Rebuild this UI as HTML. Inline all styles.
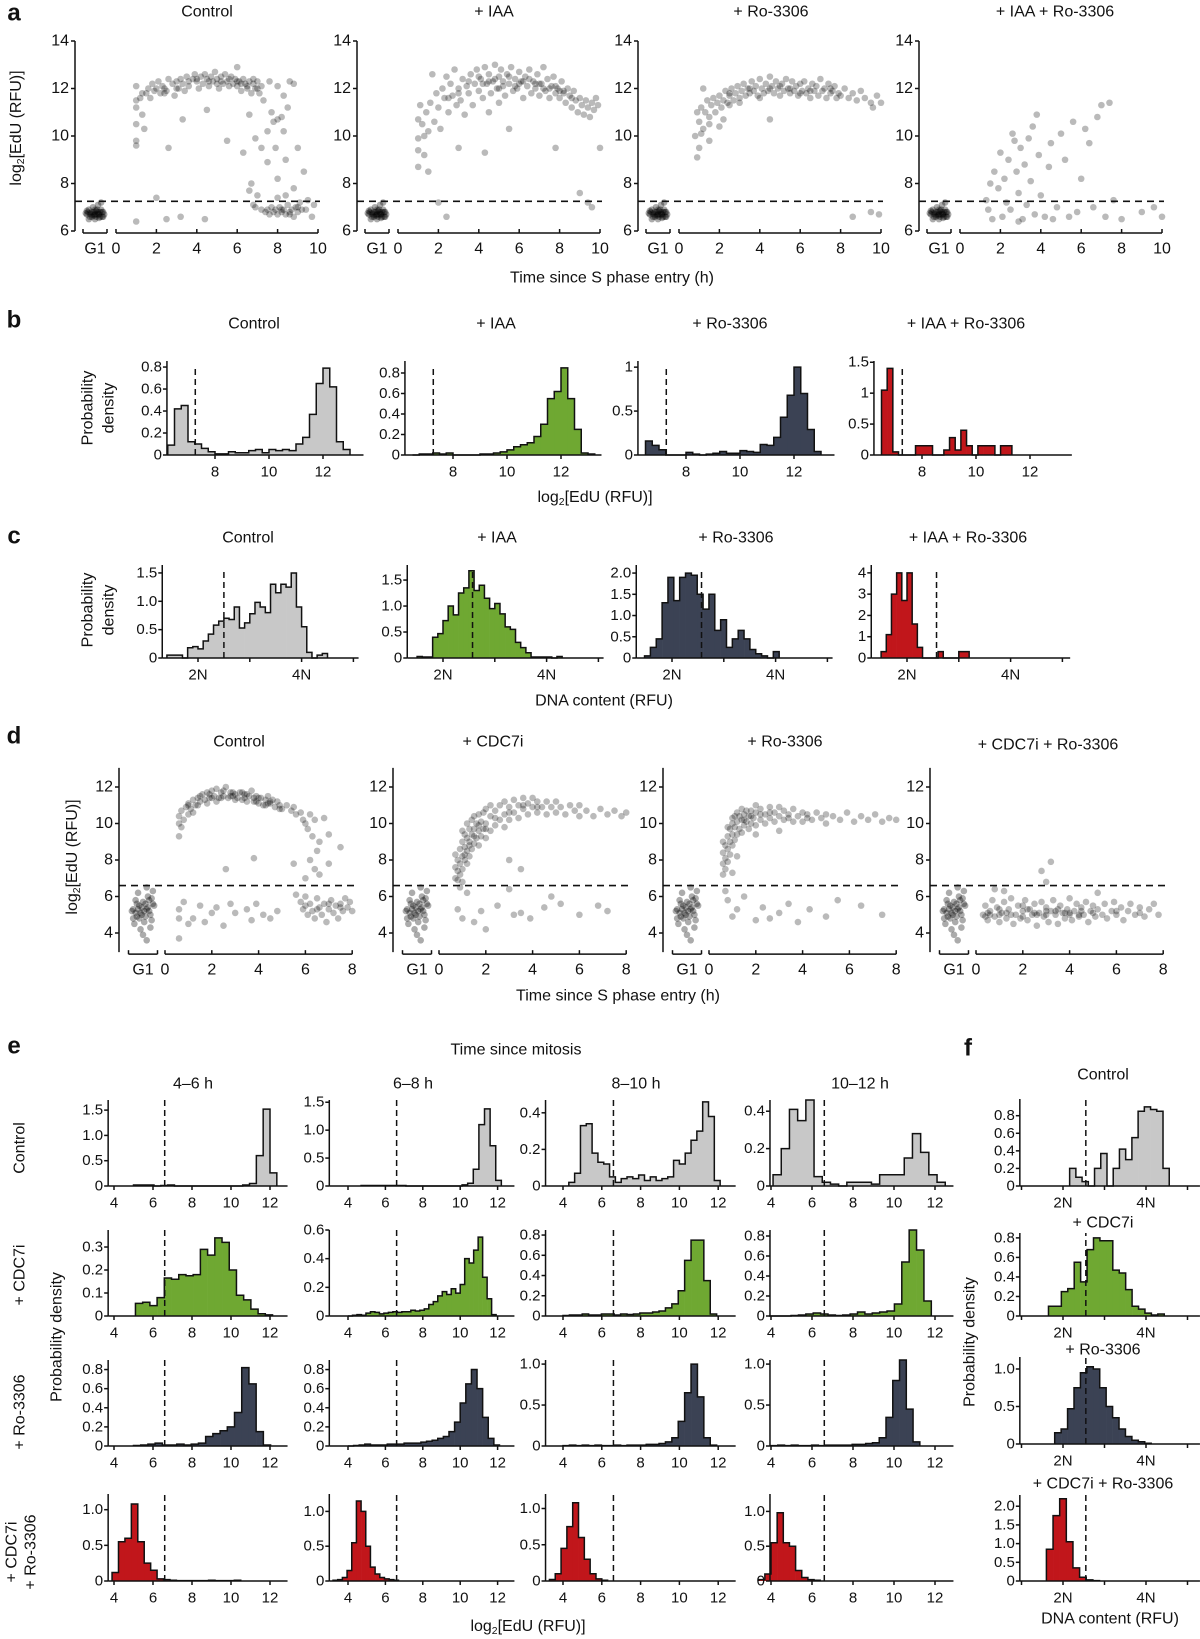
<!DOCTYPE html>
<html><head><meta charset="utf-8"><title>Figure</title>
<style>
html,body{margin:0;padding:0;background:#fff;}
svg{display:block;font-family:"Liberation Sans",Arial,sans-serif;}
</style></head>
<body>
<svg id="fig" width="1200" height="1639" viewBox="0 0 1200 1639" xmlns="http://www.w3.org/2000/svg"></svg>
<script>
// ---------- scatter data (a) : flat [t, v, t, v ...]
const g1A = [-0.8,6.7,-0.6,6.9,-0.5,6.6,-0.3,6.8,-0.2,6.7,0,6.9,0.1,6.6,0.3,6.8,0.4,6.7,0.6,6.9,0.8,6.6,-0.7,6.8,-0.4,6.7,-0.1,6.8,0.2,6.7,0.5,6.6,0.7,6.8,-0.9,6.75,0.9,6.7,0,6.5,-0.2,7.0,0.3,7.1,0.6,7.2,-0.6,6.5,0.1,6.85,0.4,6.55,-0.5,6.75,0.2,6.9,0.7,6.6,-0.8,6.85,0.0,6.7,0.5,6.8,-0.3,6.6,0.8,6.8,-0.1,6.65,0.35,6.7];
const sA1 = [1.0,12.1,1.0,11.5,1.0,11.2,1.0,10.5,1.0,9.8,1.0,9.6,1.2,11.6,1.3,11.8,1.3,10.9,1.4,10.3,1.5,11.8,1.6,12.0,1.7,11.6,1.8,12.2,1.9,11.9,2.0,12.0,2.1,12.3,2.2,11.8,2.3,12.1,2.4,12.0,2.5,11.9,2.6,12.4,2.6,9.5,2.8,12.2,2.9,11.7,3.0,12.3,3.1,12.0,3.2,12.4,3.3,12.2,3.4,11.9,3.5,12.5,3.6,12.1,3.8,12.4,3.9,12.6,4.0,12.3,4.1,12.0,4.2,12.5,4.3,12.2,4.4,12.6,4.5,12.4,4.6,12.1,4.7,12.5,4.8,12.3,4.9,12.7,5.0,12.4,5.1,12.0,5.2,12.5,5.3,12.2,5.4,12.6,5.5,12.3,5.6,12.1,5.7,12.5,5.8,12.2,5.9,12.4,6.0,12.1,6.0,12.9,6.1,12.3,6.2,11.9,6.3,12.4,6.4,12.2,6.5,12.0,6.6,12.3,6.7,11.8,6.8,12.2,6.9,12.0,7.0,12.3,7.1,11.8,7.2,12.1,7.3,11.5,3.3,10.7,4.5,11.1,5.5,9.8,6.3,9.3,6.6,10.9,6.9,9.9,7.2,9.5,7.5,8.9,7.5,10.2,7.7,11.0,7.8,10.6,7.9,9.5,8.0,10.7,8.0,8.2,8.2,10.8,8.3,10.2,8.4,9.0,8.5,11.2,8.6,12.3,8.8,12.2,7.6,12.3,8.0,12.1,8.3,11.7,9.0,9.5,9.3,8.5,6.6,7.7,6.7,8.0,6.8,7.1,6.9,7.0,7.0,7.5,7.2,6.9,7.4,6.8,7.5,6.9,7.6,6.7,7.7,7.0,7.8,6.8,7.9,6.9,8.0,6.7,8.1,7.0,8.2,6.8,8.3,6.9,8.4,6.7,8.5,7.1,8.6,6.8,8.7,6.9,8.8,6.6,8.9,7.0,9.0,6.8,9.1,7.2,9.2,6.9,9.4,6.9,9.5,7.3,9.7,6.6,9.8,7.1,8.0,7.4,8.4,7.5,8.8,7.8,2.0,7.4,3.2,6.6,2.5,6.5,1.0,6.4,4.4,6.5,3.0,12.0,4.0,12.4,5.0,12.2,6.0,12.3,6.5,12.1,8.2,6.9,8.6,6.7,9.0,7.0,5.2,12.3,5.6,12.4,6.2,12.2,6.8,12.4,7.0,12.0,4.6,12.3,3.6,12.3,2.4,11.8];
const sA2 = [1.0,10.7,1.0,9.9,1.0,9.4,1.0,8.7,1.1,11.3,1.2,10.5,1.3,9.2,1.3,10.0,1.4,11.0,1.5,8.5,1.5,10.2,1.6,11.4,1.7,12.6,1.8,10.6,1.9,11.8,2.0,11.2,2.1,10.3,2.2,12.0,2.3,11.6,2.4,12.5,2.5,11.0,2.6,12.2,2.7,11.7,2.8,12.8,2.9,11.3,3.0,12.0,3.1,11.5,3.2,12.4,3.3,10.9,3.4,12.1,3.5,11.8,3.6,12.6,3.7,11.3,3.8,12.2,3.9,12.8,4.0,11.9,4.1,12.4,4.2,11.6,4.3,12.9,4.4,12.2,4.5,11.0,4.5,12.6,4.6,11.8,4.7,12.3,4.8,13.0,4.9,12.0,5.0,12.5,5.0,11.4,5.1,12.8,5.2,12.1,5.3,11.7,5.4,12.6,5.5,12.2,5.6,12.9,5.7,11.9,5.8,12.4,5.9,12.0,6.0,12.7,6.1,12.3,6.2,11.6,6.3,12.5,6.4,12.1,6.5,12.8,6.6,11.8,6.7,12.3,6.8,12.0,6.9,12.6,7.0,11.7,7.1,12.2,7.2,12.9,7.3,11.9,7.4,12.4,7.5,11.6,7.6,12.1,7.7,12.5,7.8,11.8,7.9,12.0,8.0,11.6,8.1,12.3,8.2,11.9,8.3,11.4,8.4,12.0,8.5,11.7,8.6,11.2,8.7,11.9,8.8,11.5,8.9,11.0,9.0,11.6,9.1,11.3,9.2,10.9,9.3,11.5,9.4,11.2,9.5,10.8,9.6,11.4,9.7,11.1,9.8,11.6,9.9,11.3,2.0,7.2,2.4,6.6,9.0,7.6,9.4,7.2,9.6,7.0,4.3,9.3,7.8,9.5,3.0,9.5,5.5,10.3,3.5,12.3,4.0,12.5,4.5,12.3,5.0,12.0,5.5,12.5,6.0,12.2,6.5,12.4,7.0,12.2,7.5,12.0,8.0,11.9,3.0,11.8,2.5,11.6,10.0,9.5,4.2,12.2,4.8,12.4,5.2,12.3,5.8,12.1,6.2,12.3,6.8,12.2,7.2,12.0,7.8,12.1,8.2,11.8,8.6,11.6];
const sA3 = [0.8,10.0,0.9,11.0,1.0,9.5,1.0,10.6,1.1,11.2,1.2,10.3,1.3,11.0,1.4,11.5,1.5,10.8,1.6,11.3,1.7,11.6,1.8,11.0,1.9,11.4,2.0,11.7,2.1,11.2,2.2,11.5,2.3,11.9,2.4,11.4,2.5,11.7,2.6,12.0,2.7,11.5,2.8,11.8,2.9,12.1,3.0,11.6,3.1,11.9,3.2,12.2,3.3,11.7,3.4,12.0,3.5,11.8,3.6,12.3,3.7,11.9,3.8,12.1,3.9,11.7,4.0,12.4,4.1,12.0,4.2,11.8,4.3,12.2,4.4,11.9,4.5,12.5,4.6,12.1,4.7,11.8,4.8,12.3,4.9,12.0,5.0,11.7,5.1,12.2,5.2,11.9,5.3,12.4,5.4,12.0,5.5,11.8,5.6,12.3,5.7,11.9,5.8,12.1,5.9,11.7,6.0,12.2,6.1,11.9,6.2,12.3,6.3,11.8,6.4,12.0,6.5,11.6,6.6,12.2,6.7,11.9,6.8,12.1,6.9,11.7,7.0,12.4,7.1,11.9,7.2,12.0,7.3,11.6,7.4,12.2,7.5,11.8,7.6,11.9,7.7,12.1,7.8,11.6,7.9,11.8,8.0,11.7,8.2,12.0,8.4,11.6,8.6,11.8,8.8,11.5,9.0,11.9,9.2,11.6,9.5,11.4,9.8,11.7,1.5,9.8,2.0,10.4,1.2,12.0,8.6,6.6,9.5,6.8,3.0,11.4,4.0,11.6,5.0,12.1,6.0,11.8,2.5,11.3,0.9,9.1,1.1,10.1,1.5,10.5,2.2,10.7,4.5,10.7,9.9,6.7,9.6,11.2,10.0,11.4,3.5,12.0,4.5,12.0,5.5,12.0,6.5,11.9,7.5,12.0,2.5,11.8];
const sA4 = [1.3,7.3,1.4,6.9,1.5,8.0,1.7,8.5,1.9,7.8,2.0,9.3,2.1,6.6,2.2,8.2,2.3,7.2,2.4,9.0,2.5,6.9,2.6,10.1,2.7,9.8,2.8,8.5,2.9,7.6,3.0,9.5,3.1,6.5,3.2,8.8,3.3,7.1,3.4,9.9,3.5,8.1,3.6,10.4,3.7,6.7,3.8,10.9,3.9,9.2,4.0,7.5,4.2,6.6,4.4,8.7,4.5,9.7,4.6,6.5,4.8,7.0,5.0,10.1,5.2,9.0,5.4,6.6,5.6,10.6,5.8,6.8,6.0,8.2,6.2,10.3,6.4,9.7,6.6,7.0,6.8,10.8,7.0,11.3,7.2,6.6,7.4,11.4,7.6,7.3,8.0,6.5,9.0,6.8,9.6,7.0,10.0,6.6,1.6,6.5,2.9,6.4];
// ---------- scatter data (d)
const g1D = [-0.8,5.3,-0.6,5.8,-0.5,4.9,-0.3,5.5,-0.2,5.1,0,5.7,0.1,4.6,0.3,5.3,0.4,6.0,0.6,5.0,0.8,5.6,-0.7,4.5,-0.4,6.2,-0.1,5.4,0.2,4.9,0.5,5.8,0.7,4.7,-0.9,5.2,0.9,5.5,0,3.9,-0.2,4.2,0.3,6.5,0.6,4.3,-0.5,5.6,0.1,5.2,0.4,5.4,-0.3,4.8,0.8,6.3,-0.6,5.1,0.2,5.6,0.5,5.2,-0.1,5.0,0.7,5.9,-0.8,4.8,0.3,3.6,-0.4,5.3];
const sD1 = [0.6,10.0,0.6,9.3,0.6,10.4,0.7,9.8,0.7,10.7,0.8,10.2,0.9,10.9,1.0,10.5,1.0,11.1,1.1,10.8,1.2,11.3,1.3,11.0,1.4,11.4,1.5,11.2,1.6,11.6,1.7,11.3,1.8,11.7,1.9,11.4,2.0,11.8,2.1,11.5,2.2,11.9,2.3,11.4,2.4,11.7,2.5,11.5,2.6,12.0,2.7,11.4,2.8,11.7,2.9,11.5,3.0,11.6,3.1,11.4,3.2,11.7,3.3,11.3,3.4,11.6,3.5,11.2,3.6,11.5,3.7,11.8,3.8,11.2,3.9,11.5,4.0,11.1,4.1,11.4,4.2,11.0,4.3,11.3,4.4,11.5,4.5,11.1,4.6,11.3,4.7,10.9,4.8,11.2,4.9,11.0,5.0,10.8,5.2,11.0,5.4,10.7,5.5,10.9,5.6,10.5,5.8,10.6,5.9,10.2,6.0,10.0,6.1,9.7,6.2,10.5,6.3,9.3,6.4,10.2,6.5,8.5,6.6,9.0,6.8,10.3,7.0,9.4,7.5,8.7,6.2,8.0,6.4,7.5,6.6,7.2,5.5,7.8,6.0,7.0,7.0,7.8,1.0,11.0,1.5,11.5,2.0,11.4,2.5,11.8,3.0,11.3,3.5,11.6,4.0,11.4,4.5,11.2,1.2,10.6,1.8,11.1,2.2,11.2,2.8,11.5,3.3,11.7,3.8,11.4,4.3,11.0,5.6,6.1,5.8,5.7,5.9,5.3,6.0,6.0,6.1,5.0,6.2,5.6,6.3,5.2,6.4,4.8,6.5,5.9,6.6,5.4,6.7,5.0,6.8,5.6,6.9,4.6,7.0,5.3,7.1,5.8,7.2,5.1,7.3,5.5,7.4,4.8,7.5,5.6,7.6,5.2,7.7,5.9,7.8,5.4,7.9,5.7,8.0,5.2,6.0,5.5,6.5,5.3,7.0,5.6,7.5,5.4,0.6,4.8,0.6,5.3,0.6,3.7,0.8,5.7,1.0,4.5,1.2,4.8,1.5,5.5,1.7,4.6,2.0,5.1,2.2,5.4,2.8,5.6,3.0,5.1,3.5,5.3,3.7,4.7,3.9,5.6,4.2,5.0,4.5,4.8,4.8,5.2,2.5,4.4,3.8,8.1,2.6,7.5,1.4,11.0,1.9,11.6,2.4,11.4,2.9,11.7,3.4,11.4,3.9,11.2,4.4,11.1,4.9,10.8];
const sD2 = [0.7,7.0,0.7,7.6,0.7,8.3,0.8,6.9,0.8,7.4,0.8,8.0,0.9,7.2,0.9,7.8,0.9,8.6,1.0,7.5,1.0,8.2,1.0,9.0,1.0,9.6,1.1,8.0,1.1,8.7,1.1,9.4,1.2,7.8,1.2,8.5,1.2,9.2,1.2,10.0,1.3,8.2,1.3,9.0,1.3,9.7,1.4,8.6,1.4,9.4,1.4,10.2,1.5,8.9,1.5,9.7,1.5,10.4,1.6,9.2,1.6,10.0,1.7,8.8,1.7,9.6,1.7,10.5,1.8,9.3,1.8,10.1,1.9,9.7,1.9,10.6,2.0,9.2,2.0,10.0,2.0,10.8,2.2,9.6,2.2,10.4,2.2,11.0,2.4,9.9,2.4,10.7,2.6,10.2,2.6,11.0,2.8,9.8,2.8,10.5,2.8,11.2,3.0,10.2,3.0,10.9,3.2,10.6,3.2,11.3,3.4,10.3,3.4,11.0,3.6,10.8,3.6,11.4,3.8,10.5,3.8,11.1,4.0,10.9,4.0,11.4,4.2,10.6,4.2,11.2,4.4,10.9,4.6,11.2,4.6,10.5,4.8,10.9,5.0,11.2,5.0,10.6,5.2,10.9,5.4,10.5,5.6,11.0,5.8,10.7,6.0,10.4,6.0,11.0,6.3,10.7,6.6,10.4,6.9,10.8,7.2,10.5,7.5,10.7,7.8,10.4,8.0,10.6,0.8,5.3,1.0,4.8,1.2,6.2,1.5,4.6,1.8,5.2,2.0,4.2,2.5,5.5,3.0,6.4,3.2,5.0,3.5,5.1,3.9,4.8,4.5,5.4,4.8,6.0,5.2,5.6,6.0,5.0,6.8,5.5,7.2,5.2,1.0,6.8,0.9,6.5,3.0,8.0,3.5,7.5,1.1,8.3,1.3,8.8,1.5,9.3,1.7,9.9,2.0,9.7,2.4,10.3,3.0,10.6,3.6,11.0,4.2,10.9];
const sD3 = [0.6,7.2,0.6,7.8,0.6,8.4,0.7,7.5,0.7,8.1,0.7,8.8,0.8,7.9,0.8,8.6,0.8,9.3,0.9,8.3,0.9,9.0,0.9,9.7,1.0,8.8,1.0,9.4,1.0,10.0,1.1,9.1,1.1,9.8,1.1,10.4,1.2,9.4,1.2,10.1,1.3,9.7,1.3,10.4,1.4,9.5,1.4,10.2,1.4,10.8,1.5,9.9,1.5,10.5,1.6,10.1,1.6,10.7,1.7,9.7,1.7,10.4,1.8,10.0,1.8,10.7,1.9,10.3,2.0,9.9,2.0,10.6,2.0,11.0,2.2,10.2,2.2,10.8,2.4,10.0,2.4,10.5,2.6,10.3,2.6,10.9,2.8,10.1,2.8,10.6,3.0,10.4,3.0,10.9,3.2,10.2,3.2,10.7,3.4,10.5,3.6,10.1,3.6,10.8,3.8,10.4,4.0,10.6,4.0,10.1,4.2,10.5,4.4,10.2,4.6,10.6,4.8,10.3,5.0,10.5,5.0,10.0,5.3,10.4,5.6,10.2,5.9,10.6,6.2,10.1,6.5,10.4,6.8,10.2,7.1,10.5,7.4,10.1,7.7,10.3,8.0,10.2,3.0,9.6,2.0,9.4,1.0,7.3,1.2,8.2,0.7,6.3,0.8,5.8,1.0,4.9,1.2,5.3,1.5,6.0,2.0,4.7,2.3,5.4,2.6,4.8,3.0,5.1,3.4,5.6,3.8,4.6,4.3,5.3,5.0,4.9,5.5,5.8,6.5,5.5,7.4,5.0,0.6,9.0,0.8,9.8,1.0,10.3,1.2,10.6,1.5,10.2,1.8,10.4,2.2,10.5,2.6,10.6,3.4,10.3,4.2,10.3];
const sD4 = [0.3,5.0,0.4,5.5,0.5,4.7,0.6,5.2,0.7,5.8,0.8,4.9,0.9,5.4,1.0,4.6,1.1,5.1,1.2,5.7,1.3,4.8,1.4,5.3,1.5,5.9,1.6,4.5,1.7,5.0,1.8,5.5,1.9,4.8,2.0,5.2,2.1,5.8,2.2,4.7,2.3,5.3,2.4,5.0,2.5,5.6,2.6,4.4,2.7,5.1,2.8,5.7,2.9,4.9,3.0,5.4,3.1,4.6,3.2,5.2,3.3,5.8,3.4,5.0,3.5,4.5,3.6,5.5,3.7,5.1,3.8,4.8,3.9,5.3,4.0,5.9,4.1,4.7,4.2,5.2,4.3,5.6,4.4,4.9,4.5,5.4,4.6,5.0,4.7,5.7,4.8,4.6,4.9,5.2,5.0,5.5,5.1,4.9,5.2,5.3,5.4,5.0,5.5,5.6,5.6,4.8,5.8,5.2,5.9,5.7,6.0,5.0,6.2,5.4,6.3,4.7,6.5,5.2,6.6,5.6,6.8,5.0,7.0,5.4,7.2,4.9,7.4,5.3,7.6,5.6,7.8,5.0,0.5,5.1,1.0,5.3,1.5,5.0,2.0,5.5,2.5,5.1,3.0,5.0,3.5,5.3,4.0,5.1,4.5,5.2,1.2,6.3,2.8,7.4,3.2,7.9,3.0,6.8,0.8,6.4,5.2,6.2,0.4,4.9,1.0,5.0,2.0,4.9,3.0,5.2,4.0,5.0,0.6,5.0,1.3,5.1,2.2,5.3,2.6,5.0,3.4,5.2,3.8,5.1,4.4,5.0,5.0,5.1,6.0,5.2,7.0,5.1];

// ---------- histogram data (b) EdU
const binB = 0.25;
const bCtrl = {x0:6.25, v:[0.09,0.42,0.45,0.12,0.10,0.06,0.03,0.01,0.01,0.03,0.02,0.02,0.04,0.05,0.02,0.05,0.04,0.05,0.04,0.10,0.16,0.37,0.65,0.79,0.62,0.12,0.05]};
const bIAA  = {x0:6.5, v:[0,0.01,0.01,0.02,0.01,0.02,0,0,0,0,0.01,0.01,0.02,0.03,0.05,0.08,0.10,0.12,0.18,0.30,0.55,0.62,0.85,0.55,0.25,0.02,0.01]};
const bRo   = {x0:6.5, v:[0.16,0.11,0.06,0,0,0,0.03,0.01,0,0.01,0.02,0.04,0.02,0.02,0.05,0.04,0.03,0.12,0.11,0.20,0.43,0.68,1.0,0.70,0.29,0.04]};
const bBoth = {x0:6.5, v:[1.05,1.4,0.05,0,0,0,0.15,0.15,0.15,0,0,0.08,0.28,0.08,0.4,0.15,0,0.15,0.15,0.15,0,0.15,0.15]};
const binB4 = 0.21;
// ---------- histogram data (c) DNA content, bins in N units
const cCtrl = {x0:1.4, w:0.1, v:[0.05,0.05,0.05,0,0.18,0.2,0.16,0.3,0.42,0.58,0.65,0.7,0.68,0.9,0.53,0.62,0.78,0.98,0.9,0.8,1.3,1.15,1.3,1.25,1.5,0.9,0.55,0.1,0,0.05,0.08]};
const cIAA  = {x0:1.5, w:0.1, v:[0.03,0.02,0.02,0.4,0.47,0.72,1.0,0.83,1.25,1.35,1.68,1.3,1.4,1.15,0.95,1.05,0.85,0.6,0.55,0.3,0.2,0.1,0.02,0.02,0.02,0.02,0,0.03]};
const cRo   = {x0:1.47, w:0.113, v:[0.05,0.25,0.45,1.3,1.9,1.35,1.9,2.0,1.95,1.5,1.15,1.5,0.65,0.9,0.25,0.45,0.65,0.45,0.2,0.1,0.05,0,0.15]};
const cBoth = {x0:1.5, w:0.1, v:[0.3,1.1,3.0,4.0,2.7,4.0,1.6,0.5,0,0,0,0.3,0,0,0,0.3,0.3]};
// ---------- histogram data (e) EdU by time since mitosis
const eData = [
 [{x0:5.0,w:0.35,v:[0.02,0.02,0.02,0,0.01,0.02,0,0,0,0,0,0,0,0,0,0,0.02,0.05,0.6,1.52,0.26]},
  {x0:4.7,w:0.3,v:[0.01,0.01,0.01,0.01,0.01,0.01,0.01,0.01,0,0,0,0,0,0,0,0,0,0,0.02,0.05,0.3,1.1,1.38,0.72,0.1]},
  {x0:4.3,w:0.3,v:[0.02,0.07,0.33,0.34,0.18,0.13,0.12,0.05,0.02,0.04,0.05,0.04,0.06,0.03,0.05,0.03,0.04,0.05,0.14,0.12,0.18,0.25,0.3,0.46,0.38,0.03]},
  {x0:4.1,w:0.4,v:[0.06,0.2,0.41,0.35,0.46,0.05,0.02,0.01,0,0.02,0.02,0.02,0.01,0.06,0.06,0.06,0.15,0.28,0.18,0.06,0.02]}],
 [{x0:5.1,w:0.37,v:[0.055,0.06,0.045,0.08,0.165,0.16,0.18,0.175,0.18,0.29,0.265,0.34,0.32,0.2,0.09,0.07,0.03,0.01,0.005]},
  {x0:4.0,w:0.24,v:[0,0.005,0.01,0.005,0.02,0.03,0.025,0.015,0.02,0.025,0.03,0.025,0.03,0.03,0.04,0.035,0.04,0.05,0.08,0.1,0.14,0.17,0.15,0.19,0.16,0.22,0.4,0.37,0.46,0.55,0.27,0.12,0.01]},
  {x0:4.0,w:0.33,v:[0.005,0.01,0.01,0.02,0.01,0.01,0.02,0.02,0.01,0.02,0.015,0.02,0.03,0.03,0.04,0.05,0.08,0.12,0.25,0.55,0.75,0.75,0.35,0.02]},
  {x0:3.9,w:0.36,v:[0,0,0,0.005,0.01,0.02,0.03,0.02,0.01,0.005,0.01,0.02,0.04,0.02,0.03,0.04,0.05,0.12,0.54,0.86,0.66,0.15]}],
 [{x0:5.0,w:0.37,v:[0.005,0.01,0.02,0.03,0.01,0.01,0.02,0.01,0.02,0.03,0.1,0.13,0.16,0.2,0.35,0.82,0.65,0.15,0.01]},
  {x0:4.0,w:0.3,v:[0,0.005,0.01,0.02,0.01,0.01,0.01,0.02,0.02,0.02,0.03,0.03,0.03,0.04,0.05,0.06,0.08,0.1,0.15,0.25,0.45,0.65,0.8,0.6,0.3,0.08,0.01]},
  {x0:4.0,w:0.33,v:[0.005,0.01,0.005,0.01,0.005,0.01,0.005,0.005,0.01,0.005,0.01,0.01,0.01,0.02,0.02,0.03,0.05,0.1,0.3,0.65,1.0,0.6,0.1,0.01]},
  {x0:4.0,w:0.33,v:[0.005,0.01,0.005,0.01,0.005,0.005,0.01,0.005,0.01,0.01,0.01,0.01,0.02,0.02,0.03,0.04,0.1,0.35,0.8,1.05,0.45,0.05]}],
 [{x0:3.9,w:0.33,v:[0.12,0.55,0.6,1.08,0.55,0.25,0.15,0.03,0.02,0.01,0.005,0.005,0.005,0.005,0.005,0.01,0.005,0.005,0.005,0.01]},
  {x0:3.2,w:0.25,v:[0.01,0.02,0.05,0.15,0.55,1.15,1.0,0.5,0.2,0.1,0.05,0.03,0.02,0.01]},
  {x0:3.3,w:0.3,v:[0.02,0.1,0.45,0.75,1.08,0.6,0.3,0.1,0.03,0.01]},
  {x0:3.4,w:0.3,v:[0.02,0.1,0.55,0.98,0.55,0.5,0.15,0.05,0.02,0.01]}]
];
// ---------- histogram data (f) DNA content
const fData = [
  {x0:2.16,w:0.15,v:[0.2,0.1,0.05,0,0.2,0.37,0,0.2,0.42,0.3,0.55,0.85,0.9,0.87,0.85,0.2]},
  {x0:1.65,w:0.155,v:[0.1,0.1,0.25,0.28,0.55,0.35,0.68,0.8,0.77,0.77,0.47,0.44,0.27,0.1,0.07,0.03,0.01,0.02]},
  {x0:1.8,w:0.155,v:[0.15,0.2,0.47,0.75,0.95,1.03,1.0,0.75,0.5,0.35,0.2,0.1,0.05,0.03,0.01]},
  {x0:1.6,w:0.16,v:[0.85,1.75,2.2,1.05,0.35,0.1,0.03,0.01]}
];

// ---------- drawing helpers
const NS = 'http://www.w3.org/2000/svg';
const S = document.getElementById('fig');
function mk(tag, attrs, parent){
  const e = document.createElementNS(NS, tag);
  for (const k in attrs) e.setAttribute(k, attrs[k]);
  (parent || S).appendChild(e);
  return e;
}
function grp(name, parent){
  const g = mk('g', {}, parent);
  
  
  return g;
}
function txt(x, y, s, size, anchor, name, parent, weight){
  const t = mk('text', {x:x, y:y, 'font-size':size, 'text-anchor':anchor||'middle', 'dominant-baseline':'central', fill:'#111', 'font-weight':weight||'normal'}, parent);
  t.textContent = s;
  
  
  return t;
}
function rtxt(x, y, s, size, name, parent){
  const t = mk('text', {x:0, y:0, 'font-size':size, 'text-anchor':'middle', 'dominant-baseline':'central', fill:'#111', transform:'translate('+x+','+y+') rotate(-90)'}, parent);
  t.textContent = s;
  
  
  return t;
}
function line(x1,y1,x2,y2,name,parent,dash,w){
  const l = mk('line', {x1:x1,y1:y1,x2:x2,y2:y2,stroke:'#111','stroke-width':w||1.5}, parent);
  if (dash) l.setAttribute('stroke-dasharray', dash);
  
  
  return l;
}
function edu(x, y, size, name, parent, rot){
  const t = mk('text', {x:0, y:0, 'font-size':size, 'text-anchor':'middle', 'dominant-baseline':'central', fill:'#111', transform:'translate('+x+','+y+')'+(rot?' rotate(-90)':'')}, parent);
  
  
  const a = mk('tspan', {}, t); a.textContent = 'log';
  const b = mk('tspan', {'font-size':size*0.65, dy:size*0.3}, t); b.textContent = '2';
  const c = mk('tspan', {dy:-size*0.3}, t); c.textContent = '[EdU (RFU)]';
  return t;
}

// scatter panel
function scatter(name, ax, cfg, g1, pts){
  const g = grp(name);
  const Y = v => cfg.yp0 - (v - cfg.yv0) * cfg.ky;
  const T = t => ax + cfg.tOff + t * cfg.kt;
  line(ax, Y(cfg.yTopV), ax, Y(cfg.yBotV), 'y-axis', g);
  cfg.yTicks.forEach(v => {
    line(ax-4, Y(v), ax, Y(v), 'y-tick', g);
    txt(ax-6, Y(v), String(v), 16, 'end', 'y-tick-label', g);
  });
  const by = Y(cfg.yBotV) + 2;
  const gc = ax + cfg.g1Off;
  line(gc-cfg.g1Half, by, gc+cfg.g1Half, by, 'g1-bracket', g);
  line(gc-cfg.g1Half, by-4, gc-cfg.g1Half, by, 'g1-bracket-tick', g);
  line(gc+cfg.g1Half, by-4, gc+cfg.g1Half, by, 'g1-bracket-tick', g);
  txt(gc, by+cfg.lblOff, 'G1', 16, 'middle', 'g1-label', g);
  line(T(0), by, T(cfg.tMax), by, 'x-axis', g);
  for (let t = 0; t <= cfg.tMax; t += 2){
    line(T(t), by-4, T(t), by, 'x-tick', g);
    txt(T(t), by+cfg.lblOff, String(t), 16, 'middle', 'x-tick-label', g);
  }
  const pg = grp('scatter-points', g);
  for (let i = 0; i < g1.length; i += 2){
    const c = mk('circle', {cx: gc + g1[i]*cfg.g1Half*0.85, cy: Y(g1[i+1]), r: 3.3, fill:'#000', 'fill-opacity':0.33}, pg);
    
    
  }
  for (let i = 0; i < pts.length; i += 2){
    const c = mk('circle', {cx: T(pts[i]), cy: Y(pts[i+1]), r: 3.3, fill:'#000', 'fill-opacity':0.27}, pg);
    
    
  }
  line(ax, Y(cfg.dashV), T(cfg.tMax)+2, Y(cfg.dashV), 'threshold-line', g, '7,5', 1.6);
}

// histogram panel
function hist(name, cfg, h, w, color){
  const g = grp(name);
  const X = v => cfg.p0 + (v - cfg.v0) * cfg.kx;
  const Y = v => cfg.base - v / cfg.ymax * (cfg.base - cfg.top);
  const bg = grp('bars', g);
  let d = 'M' + X(h.x0) + ',' + cfg.base;
  h.v.forEach((v, i) => {
    const xa = X(h.x0 + i*w), xb = X(h.x0 + (i+1)*w);
    const r = mk('rect', {x: xa, y: Y(v), width: Math.max(0, xb-xa+0.3), height: cfg.base - Y(v), fill: color}, bg);
    
    
    d += ' L' + xa + ',' + Y(v) + ' L' + xb + ',' + Y(v);
  });
  d += ' L' + X(h.x0 + h.v.length*w) + ',' + cfg.base;
  const p = mk('path', {d: d, fill: 'none', stroke: '#111', 'stroke-width': 1.5}, g);
  
  
  const ax = X(cfg.xmin);
  line(ax, cfg.base, ax, cfg.top, 'y-axis', g);
  line(ax, cfg.base, X(cfg.xmax), cfg.base, 'x-axis', g);
  cfg.yTicks.forEach((v, i) => {
    line(ax-4, Y(v), ax, Y(v), 'y-tick', g);
    txt(ax-5, Y(v), cfg.yLabels[i], 15, 'end', 'y-tick-label', g);
  });
  cfg.xTicks.forEach((v, i) => {
    line(X(v), cfg.base, X(v), cfg.base+4, 'x-tick', g);
    if (cfg.xLabels[i]) txt(X(v), cfg.base+17, cfg.xLabels[i], 15, 'middle', 'x-tick-label', g);
  });
  line(X(cfg.dash), cfg.base, X(cfg.dash), cfg.dashTop, 'threshold-line', g, '6,4', 1.5);
}

// ---------- panel letters
[['a',14,13],['b',14,320],['c',14,536],['d',14,736],['e',14,1046],['f',968,1048]].forEach(l => txt(l[1], l[2], l[0], 24, 'middle', 'panel-letter-'+l[0], S, 'bold'));

// ---------- panel a
const aTitles = ['Control','+ IAA','+ Ro-3306','+ IAA + Ro-3306'];
const aAxes = [75, 357, 638, 919];
const aTitleX = [207, 494, 771, 1055];
const aCfg = {yp0:231, yv0:6, ky:23.75, yTopV:14, yBotV:6, tOff:41, kt:20.2, tMax:10, g1Off:20, g1Half:12, dashV:7.25, yTicks:[6,8,10,12,14], lblOff:16};
const aPts = [sA1, sA2, sA3, sA4];
aAxes.forEach((ax, i) => {
  scatter('panel-a-'+(i+1), ax, aCfg, g1A, aPts[i]);
  txt(aTitleX[i], 12, aTitles[i], 16, 'middle', 'panel-a-title', S);
});
edu(16, 128, 16, 'panel-a-y-axis-title', S, true);
txt(612, 278, 'Time since S phase entry (h)', 16, 'middle', 'panel-a-x-axis-title', S);

// ---------- panel b
const b8 = [215, 453, 686, 922];
const bTitleX = [254, 496, 730, 966];
const bYmax = [0.855, 0.917, 1.07, 1.52];
const bYT = [[0,0.2,0.4,0.6,0.8],[0,0.2,0.4,0.6,0.8],[0,0.5,1],[0,0.5,1,1.5]];
const bYL = [['0','0.2','0.4','0.6','0.8'],['0','0.2','0.4','0.6','0.8'],['0','0.5','1'],['0','0.5','1','1.5']];
const bHist = [bCtrl, bIAA, bRo, bBoth];
const bCol = ['#c8c8c8','#6fa832','#3b4254','#c1161b'];
b8.forEach((p, i) => {
  hist('panel-b-'+(i+1), {p0:p, v0:8, kx:27, xmin:6.22, xmax:(i==3?13.55:13.5), base:455, top:361, ymax:bYmax[i], yTicks:bYT[i], yLabels:bYL[i], xTicks:[8,10,12], xLabels:['8','10','12'], dash:7.27, dashTop:367}, bHist[i], i==3?binB4:binB, bCol[i]);
  txt(bTitleX[i], 324, aTitles[i], 16, 'middle', 'panel-b-title', S);
});
rtxt(88, 408, 'Probability', 16, 'panel-b-y-axis-title', S);
rtxt(109, 408, 'density', 16, 'panel-b-y-axis-title', S);
edu(595, 497, 16, 'panel-b-x-axis-title', S, false);

// ---------- panel c
const c2 = [198, 443, 672, 907];
const cTitleX = [248, 497, 736, 968];
const cYmax = [1.64, 1.79, 2.19, 4.37];
const cYT = [[0,0.5,1,1.5],[0,0.5,1,1.5],[0,0.5,1,1.5,2],[0,1,2,3,4]];
const cYL = [['0','0.5','1.0','1.5'],['0','0.5','1.0','1.5'],['0','0.5','1.0','1.5','2.0'],['0','1','2','3','4']];
const cHist = [cCtrl, cIAA, cRo, cBoth];
c2.forEach((p, i) => {
  hist('panel-c-'+(i+1), {p0:p, v0:2, kx:51.8, xmin:1.31, xmax:(i==3?5.15:5.1), base:658, top:565, ymax:cYmax[i], yTicks:cYT[i], yLabels:cYL[i], xTicks:[2,3,4,5], xLabels:['2N','','4N',''], dash:(i==0?2.5:2.57), dashTop:571}, cHist[i], cHist[i].w, bCol[i]);
  txt(cTitleX[i], 538, aTitles[i], 16, 'middle', 'panel-c-title', S);
});
rtxt(88, 610, 'Probability', 16, 'panel-c-y-axis-title', S);
rtxt(109, 610, 'density', 16, 'panel-c-y-axis-title', S);
txt(604, 701, 'DNA content (RFU)', 16, 'middle', 'panel-c-x-axis-title', S);

// ---------- panel d
const dTitles = ['Control','+ CDC7i','+ Ro-3306','+ CDC7i + Ro-3306'];
const dAxes = [119, 393, 663, 930];
const dTitleX = [239, 493, 785, 1048];
const dCfg = {yp0:933, yv0:4, ky:18.25, yTopV:13.05, yBotV:2.95, tOff:46, kt:23.4, tMax:8, g1Off:24, g1Half:14.5, dashV:6.6, yTicks:[4,6,8,10,12], lblOff:16};
const dPts = [sD1, sD2, sD3, sD4];
dAxes.forEach((ax, i) => {
  scatter('panel-d-'+(i+1), ax, dCfg, g1D, dPts[i]);
  txt(dTitleX[i], i==3?745:742, dTitles[i], 16, 'middle', 'panel-d-title', S);
});
edu(72, 857, 16, 'panel-d-y-axis-title', S, true);
txt(618, 996, 'Time since S phase entry (h)', 16, 'middle', 'panel-d-x-axis-title', S);

// ---------- panel e
const e4 = [114, 348, 563, 771];
const eKx = [19.5, 18.7, 19.4, 20.5];
const eXmin = [3.7, 3.0, 3.1, 3.95];
const eBase = [1186, 1316, 1446, 1581];
const eTop = [1100, 1230, 1360, 1494];
const eYmax = [[1.70,1.54,0.47,0.46],[0.374,0.60,0.85,0.86],[0.90,0.90,1.05,1.05],[1.22,1.25,1.2,1.25]];
const eYT = [
  [[0,0.5,1,1.5],[0,0.5,1,1.5],[0,0.2,0.4],[0,0.2,0.4]],
  [[0,0.1,0.2,0.3],[0,0.2,0.4,0.6],[0,0.2,0.4,0.6,0.8],[0,0.2,0.4,0.6,0.8]],
  [[0,0.2,0.4,0.6,0.8],[0,0.2,0.4,0.6,0.8],[0,0.5,1],[0,0.5,1]],
  [[0,0.5,1],[0,0.5,1],[0,0.5,1],[0,0.5,1]]
];
const eColTitles = ['4–6 h','6–8 h','8–10 h','10–12 h'];
const eColX = [193, 413, 636, 860];
const eRowCol = ['#c8c8c8','#6fa832','#3b4254','#c1161b'];
for (let r = 0; r < 4; r++){
  for (let c = 0; c < 4; c++){
    const yt = eYT[r][c];
    hist('panel-e-r'+(r+1)+'-c'+(c+1), {p0:e4[c], v0:4, kx:eKx[c], xmin:eXmin[c], xmax:12.9, base:eBase[r], top:eTop[r], ymax:eYmax[r][c], yTicks:yt, yLabels:yt.map(v => v===0?'0':v.toFixed(1)), xTicks:[4,6,8,10,12], xLabels:['4','6','8','10','12'], dash:6.6, dashTop:eTop[r]}, eData[r][c], eData[r][c].w, eRowCol[r]);
  }
}
eColTitles.forEach((t, i) => txt(eColX[i], 1084, t, 16, 'middle', 'panel-e-column-title', S));
txt(516, 1050, 'Time since mitosis', 16, 'middle', 'panel-e-top-title', S);
rtxt(20, 1148, 'Control', 16, 'panel-e-row-label', S);
rtxt(20, 1275, '+ CDC7i', 16, 'panel-e-row-label', S);
rtxt(20, 1412, '+ Ro-3306', 16, 'panel-e-row-label', S);
rtxt(12, 1552, '+ CDC7i', 16, 'panel-e-row-label', S);
rtxt(31, 1552, '+ Ro-3306', 16, 'panel-e-row-label', S);
rtxt(57, 1337, 'Probability density', 16, 'panel-e-y-axis-title', S);
edu(528, 1626, 16, 'panel-e-x-axis-title', S, false);

// ---------- panel f
const fBase = [1186, 1316, 1444, 1581];
const fTop = [1099, 1233, 1357, 1495];
const fYmax = [0.99, 0.85, 1.16, 2.3];
const fYT = [[0,0.2,0.4,0.6,0.8],[0,0.2,0.4,0.6,0.8],[0,0.5,1],[0,0.5,1,1.5,2]];
const fTitles = ['Control','+ CDC7i','+ Ro-3306','+ CDC7i + Ro-3306'];
const fTitleY = [1075, 1223, 1350, 1484];
fData.forEach((h, i) => {
  hist('panel-f-'+(i+1), {p0:1063, v0:2, kx:41.5, xmin:0.96, xmax:5.3, base:fBase[i], top:fTop[i], ymax:fYmax[i], yTicks:fYT[i], yLabels:fYT[i].map(v => v===0?'0':v.toFixed(1)), xTicks:[1,2,3,4,5], xLabels:['','2N','','4N',''], dash:2.55, dashTop:fTop[i]}, h, h.w, eRowCol[i]);
  txt(1103, fTitleY[i], fTitles[i], 16, 'middle', 'panel-f-title', S);
});
rtxt(970, 1342, 'Probability density', 16, 'panel-f-y-axis-title', S);
txt(1110, 1619, 'DNA content (RFU)', 16, 'middle', 'panel-f-x-axis-title', S);
</script>
</body></html>
